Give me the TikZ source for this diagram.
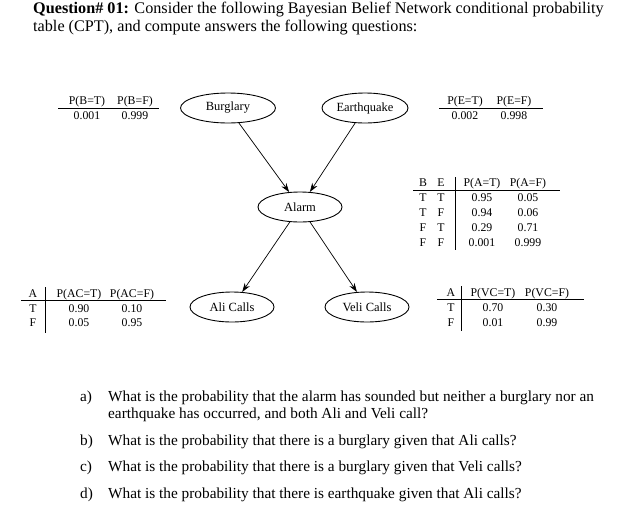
\documentclass[tikz,border=0pt]{standalone}
\usepackage{fontspec}
\setmainfont{Liberation Serif}
\usetikzlibrary{shapes.geometric,arrows.meta}
\begin{document}
\begin{tikzpicture}[x=1pt,y=-1pt,
  bn/.style={draw,line width=0.9pt,ellipse,minimum width=84pt,minimum height=30pt,inner sep=0pt,font=\fontsize{12.5}{14}\selectfont},
  tt/.style={font=\fontsize{11.8}{12}\selectfont,inner sep=0pt,anchor=base},
  qq/.style={font=\fontsize{15.3}{17}\selectfont,inner sep=0pt,anchor=base west},
  arr/.style={-{Stealth[length=9pt,width=6pt]},line width=0.7pt}]
\fill[white] (0,0) rectangle (629,517);
\useasboundingbox (0,0) rectangle (629,517);
% title
\node[qq,font=\fontsize{16.2}{17}\selectfont] (t1) at (33,13) {\textbf{Question\# 01:} Consider the following Bayesian Belief Network conditional probability};
\node[qq,font=\fontsize{16.2}{17}\selectfont] (t2) at (33,31) {table (CPT), and compute answers the following questions:};
% nodes
\node[bn,minimum width=95pt] (B) at (228,108) {Burglary};
\node[bn,minimum width=86pt] (E) at (365,108) {Earthquake};
\node[bn] (A) at (300,207) {Alarm};
\node[bn] (AC) at (232,307) {Ali Calls};
\node[bn] (VC) at (367,307) {Veli Calls};
\draw[arr] (B) -- (A);
\draw[arr] (E) -- (A);
\draw[arr] (A) -- (AC);
\draw[arr] (A) -- (VC);
% B table
\node[tt] (b1) at (87,104) {P(B=T)};
\node[tt] (b2) at (135,104) {P(B=F)};
\node[tt] (b3) at (87,119) {0.001};
\node[tt] (b4) at (135,119) {0.999};
\draw[thin] (58,108) -- (159,108);
% E table
\node[tt] (e1) at (465,104) {P(E=T)};
\node[tt] (e2) at (514,104) {P(E=F)};
\node[tt] (e3) at (465,119) {0.002};
\node[tt] (e4) at (514,119) {0.998};
\draw[thin] (439,108) -- (543,108);
% A table
\foreach \y/\b/\e/\p/\q [count=\i] in {186/B/E/P(A=T)/P(A=F),201/T/T/0.95/0.05,216/T/F/0.94/0.06,231/F/T/0.29/0.71,246/F/F/0.001/0.999}{
  \node[tt] (ab\i) at (423,\y) {\b};
  \node[tt] (ae\i) at (441,\y) {\e};
  \node[tt] (ap\i) at (482,\y) {\p};
  \node[tt] (aq\i) at (528,\y) {\q};
}
\draw[thin] (413,190) -- (560,190);
\draw[thin] (455,177) -- (455,250);
% AC table
\foreach \y/\a/\p/\q [count=\i] in {297/A/P(AC=T)/P(AC=F),312/T/0.90/0.10,326/F/0.05/0.95}{
  \node[tt] (ca\i) at (33,\y) {\a};
  \node[tt] (cp\i) at (79,\y) {\p};
  \node[tt] (cq\i) at (132,\y) {\q};
}
\draw[thin] (21,300) -- (166,300);
\draw[thin] (45,287) -- (45,333);
% VC table
\foreach \y/\a/\p/\q [count=\i] in {296/A/P(VC=T)/P(VC=F),311/T/0.70/0.30,326/F/0.01/0.99}{
  \node[tt] (va\i) at (451,\y) {\a};
  \node[tt] (vp\i) at (493,\y) {\p};
  \node[tt] (vq\i) at (547,\y) {\q};
}
\draw[thin] (437,299) -- (584,299);
\draw[thin] (461,286) -- (461,331);
% questions
\node[qq] (qa) at (80,401) {a)};
\node[qq] (qa1) at (108,401) {What is the probability that the alarm has sounded but neither a burglary nor an};
\node[qq] (qa2) at (108,418) {earthquake has occurred, and both Ali and Veli call?};
\node[qq] (qb) at (80,445) {b)};
\node[qq] (qb1) at (108,445) {What is the probability that there is a burglary given that Ali calls?};
\node[qq] (qc) at (80,471) {c)};
\node[qq] (qc1) at (108,471) {What is the probability that there is a burglary given that Veli calls?};
\node[qq] (qd) at (80,498) {d)};
\node[qq] (qd1) at (108,498) {What is the probability that there is earthquake given that Ali calls?};
\end{tikzpicture}
\end{document}
